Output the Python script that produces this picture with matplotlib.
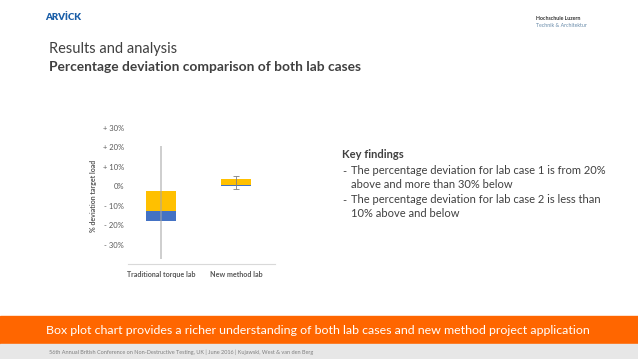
import matplotlib.pyplot as plt
from matplotlib.patches import Rectangle

plt.rcParams['font.family'] = ['Lato', 'DejaVu Sans']

# box plot values (% deviation from target load)
categories = ["Traditional torque lab", "New method lab"]
box_low = [-18.0, 0.2]
box_mid = [-12.8, 0.7]
box_high = [-2.6, 3.6]
whisker_low = [-37.4, -1.2]
whisker_high = [20.5, 5.3]
tick_values = [30, 20, 10, 0, -10, -20, -30]
tick_labels = ["+ 30%", "+ 20%", "+ 10%", "0%", "- 10%", "- 20%", "- 30%"]

findings = [
    "The percentage deviation for lab case 1 is from 20%\nabove and more than 30% below",
    "The percentage deviation for lab case 2 is less than\n10% above and below",
]

W, H = 638, 359
fig = plt.figure(figsize=(W / 100, H / 100), dpi=100)
fig.patch.set_facecolor('white')


def fx(px):
    return px / W


def fy(py):
    return 1 - py / H


# header
fig.text(fx(45), fy(18), "ARVİCK", color='#1A5EA8', fontsize=7, fontweight='heavy', va='center')
fig.text(fx(536), fy(19), "Hochschule Luzern", color='#333333', fontsize=3.8, fontweight='bold', va='center')
fig.text(fx(536), fy(25.5), "Technik & Architektur", color='#6A8CAA', fontsize=3.8, va='center')

fig.text(fx(49), fy(49), "Results and analysis", color='#404040', fontsize=10.5, va='center')
fig.text(fx(49), fy(67), "Percentage deviation comparison of both lab cases", color='#404040',
         fontsize=9.9, fontweight='bold', va='center')

# chart
ax = fig.add_axes([fx(128), fy(264), fx(275) - fx(128), fy(128) - fy(264)])
x = [1, 2]
width = 0.4
ax.bar(x, [m - l for m, l in zip(box_mid, box_low)], bottom=box_low, width=width,
       color='#4472C4', zorder=2)
ax.bar(x, [h - m for h, m in zip(box_high, box_mid)], bottom=box_mid, width=width,
       color='#FFC000', zorder=2)

# whiskers
ax.plot([x[0], x[0]], [whisker_low[0], whisker_high[0]], color='#A6A6A6', lw=1.4,
        alpha=0.55, zorder=3, solid_capstyle='butt')
ax.errorbar([x[1]], [box_mid[1]],
            yerr=[[box_mid[1] - whisker_low[1]], [whisker_high[1] - box_mid[1]]],
            fmt='none', ecolor='#7F7F7F', elinewidth=0.6, capsize=2, capthick=0.6, zorder=3)

ax.set_xlim(0.56, 2.52)
ax.set_ylim(-40, 30)
ax.set_yticks(tick_values)
ax.set_yticklabels(tick_labels)
ax.set_xticks(x)
ax.set_xticklabels(categories, fontweight='bold')
ax.tick_params(length=0, labelsize=5.5, labelcolor='#595959')
ax.tick_params(axis='x', pad=5, labelsize=5.1)
ax.tick_params(axis='y', pad=3)
for s in ['top', 'right', 'left']:
    ax.spines[s].set_visible(False)
ax.spines['bottom'].set_color('#D9D9D9')
ax.spines['bottom'].set_linewidth(0.8)
ax.set_facecolor('none')
ax.set_ylabel("% deviation target load", fontsize=5, fontweight='bold', color='#595959', labelpad=4)

# key findings
fig.text(fx(342), fy(155), "Key findings", color='#404040', fontsize=8, fontweight='bold', va='center')
yy = [172, 201]
for y0, txt in zip(yy, findings):
    fig.text(fx(342), fy(y0), "-", color='#404040', fontsize=8, va='center')
    fig.text(fx(351), fy(y0 - 7), txt, color='#404040', fontsize=8, va='top', linespacing=1.3)

# orange banner and footer
fig.add_artist(Rectangle((0, fy(344)), 1, fy(316) - fy(344), transform=fig.transFigure,
                         color='#FF6600', zorder=0))
fig.add_artist(Rectangle((0, 0), 1, fy(344), transform=fig.transFigure,
                         color='#E7E7E7', zorder=0))
fig.text(fx(318), fy(330), "Box plot chart provides a richer understanding of both lab cases and new method project application",
         color='white', fontsize=8.9, ha='center', va='center')
fig.text(fx(49), fy(352), "56th Annual British Conference on Non-Destructive Testing, UK | June 2016 | Kujawski, West & van den Berg",
         color='#7F7F7F', fontsize=4, va='center')

fig.savefig("out.png", dpi=100)
